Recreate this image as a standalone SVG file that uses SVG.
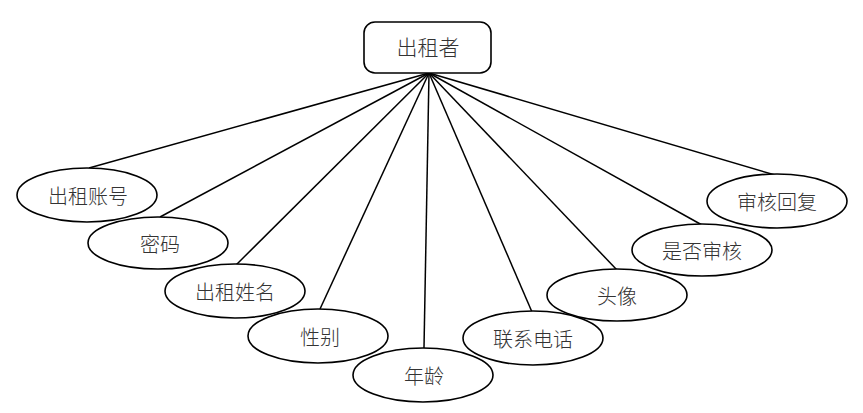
<svg xmlns="http://www.w3.org/2000/svg" width="863" height="413" viewBox="0 0 863 413">
<style>
.n{fill:#fff;stroke:#000;stroke-width:1.6}
.t{font-family:"Noto Sans CJK SC","Noto Sans",sans-serif;font-size:20px;font-weight:300;fill:#333;text-anchor:middle;dominant-baseline:central}
.c{stroke:#000;stroke-width:1.5;fill:none}
</style>
<rect width="863" height="413" fill="#fff"/>
<g id="connectors">
<line class="c" x1="429" y1="73" x2="89" y2="168"/>
<line class="c" x1="429" y1="73" x2="160" y2="217"/>
<line class="c" x1="429" y1="73" x2="236" y2="265"/>
<line class="c" x1="429" y1="73" x2="320" y2="309"/>
<line class="c" x1="429" y1="73" x2="424" y2="348"/>
<line class="c" x1="429" y1="73" x2="532" y2="312"/>
<line class="c" x1="429" y1="73" x2="617" y2="270"/>
<line class="c" x1="429" y1="73" x2="702" y2="225"/>
<line class="c" x1="429" y1="73" x2="775" y2="175"/>
</g>
<g id="renter">
<rect class="n" x="364" y="22" width="127" height="51" rx="11"/>
<text class="t" x="428" y="46" style="font-size:21px">出租者</text>
</g>
<g id="account">
<ellipse class="n" cx="87" cy="195" rx="70" ry="27"/>
<text class="t" x="88" y="195">出租账号</text>
</g>
<g id="password">
<ellipse class="n" cx="158" cy="243" rx="70" ry="26"/>
<text class="t" x="160" y="243">密码</text>
</g>
<g id="name">
<ellipse class="n" cx="235" cy="291" rx="70" ry="27"/>
<text class="t" x="235" y="291">出租姓名</text>
</g>
<g id="gender">
<ellipse class="n" cx="318" cy="336" rx="70" ry="27"/>
<text class="t" x="320" y="336">性别</text>
</g>
<g id="age">
<ellipse class="n" cx="423" cy="375" rx="70" ry="27"/>
<text class="t" x="424" y="375">年龄</text>
</g>
<g id="phone">
<ellipse class="n" cx="533" cy="338" rx="70" ry="27"/>
<text class="t" x="533" y="338">联系电话</text>
</g>
<g id="avatar">
<ellipse class="n" cx="617" cy="295" rx="70" ry="26"/>
<text class="t" x="617" y="295">头像</text>
</g>
<g id="reviewed">
<ellipse class="n" cx="702" cy="250" rx="70" ry="26"/>
<text class="t" x="702" y="250">是否审核</text>
</g>
<g id="reply">
<ellipse class="n" cx="777" cy="201" rx="70" ry="27"/>
<text class="t" x="777" y="201">审核回复</text>
</g>
</svg>
